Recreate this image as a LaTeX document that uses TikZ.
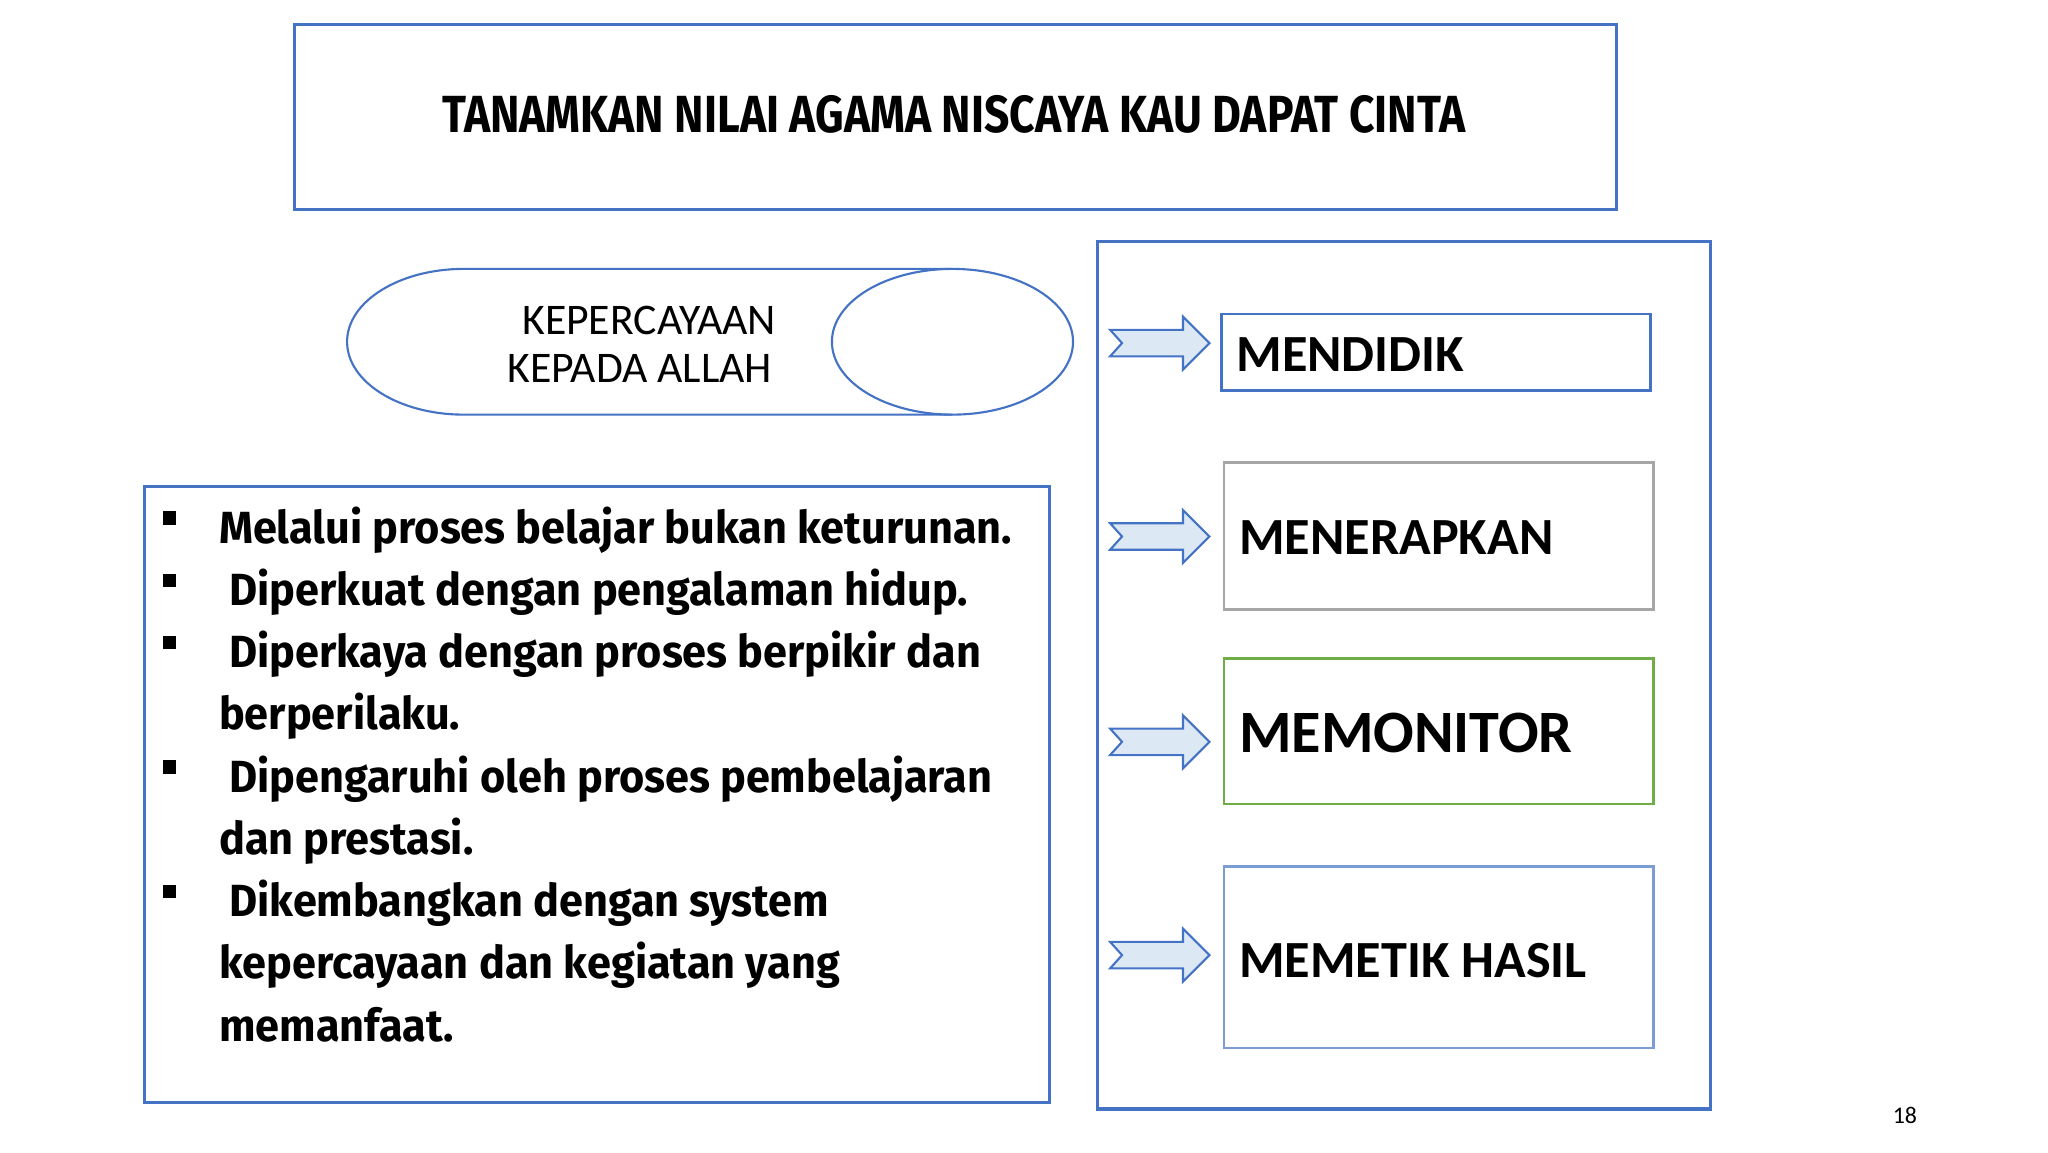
\documentclass[tikz,border=0pt]{standalone}
\usepackage{fontspec}
\setmainfont{Carlito}
\newfontfamily\fira{Fira Sans}
\usepackage{graphicx}
\definecolor{bl}{HTML}{4472C4}
\definecolor{gr}{HTML}{A6A6A6}
\definecolor{gn}{HTML}{70AD47}
\definecolor{lb}{HTML}{DDE8F5}
\tikzset{
 frame/.style={draw=bl,line width=1.2pt},
 arr/.style={draw=bl,fill=lb,line width=0.8pt},
 lbl/.style={anchor=west,inner sep=0pt,font=\bfseries\fontsize{19.7}{22}\selectfont},
 bul/.style={anchor=base west,inner sep=0pt,font=\fira\bfseries\fontsize{17}{20}\selectfont},
 kt/.style={inner sep=0pt,font=\fontsize{16.5}{18}\selectfont},
 sq/.style={fill=black,minimum size=5pt,inner sep=0pt}
}
\newcommand{\harrow}[2]{\path[arr] (838,#2-10)--(893,#2-10)--(893,#2-20)--(913,#2)--(893,#2+20)--(893,#2+10)--(838,#2+10)--(847,#2)--cycle;}
\newcommand{\bt}[1]{\scalebox{0.96}[1]{#1}}
\begin{document}
\begin{tikzpicture}[x=0.5pt,y=-0.5pt]
\useasboundingbox (0,0) rectangle (1546,870);
% title
\node[frame,minimum width=499pt,minimum height=70pt,anchor=north west] (title) at (221,17) {};
\node[inner sep=0pt] (tt) at (720,86) {\resizebox{386pt}{14pt}{\fira\bfseries TANAMKAN NILAI AGAMA NISCAYA KAU DAPAT CINTA}};
% oval shape
\draw[bl,line width=0.8pt] (719,203) -- (350,203) arc[start angle=270,end angle=90,x radius=88,y radius=55] -- (719,313);
\draw[bl,line width=0.8pt] (719,258) ellipse [x radius=91,y radius=55];
\node[kt] (kep1) at (490,242) {KEPERCAYAAN};
\node[kt] (kep2) at (483,278) {KEPADA ALLAH};
% left box
\node[frame,minimum width=341.5pt,minimum height=232.5pt,anchor=north west] (lbox) at (108,366) {};
\foreach \y in {391,438,485,579,673} \node[sq] at (128,\y) {};
\node[bul] at (165,410) {\bt{Melalui proses belajar bukan keturunan.}};
\node[bul] at (165,457) {\bt{\ Diperkuat dengan pengalaman hidup.}};
\node[bul] at (165,504) {\bt{\ Diperkaya dengan proses berpikir dan}};
\node[bul] at (165,551) {\bt{berperilaku.}};
\node[bul] at (165,598) {\bt{\ Dipengaruhi oleh proses pembelajaran}};
\node[bul] at (165,645) {\bt{dan prestasi.}};
\node[bul] at (165,692) {\bt{\ Dikembangkan dengan system}};
\node[bul] at (165,739) {\bt{kepercayaan dan kegiatan yang}};
\node[bul] at (165,786) {\bt{memanfaat.}};
% right box
\node[frame,minimum width=231.5pt,minimum height=327.5pt,anchor=north west] (rbox) at (827,181) {};
\node[draw=bl,line width=1pt,minimum width=162pt,minimum height=29pt,anchor=north west] (b1) at (921,236) {};
\node[draw=gr,line width=1pt,minimum width=162pt,minimum height=55.5pt,anchor=north west] (b2) at (923,348) {};
\node[draw=gn,line width=1pt,minimum width=162pt,minimum height=55pt,anchor=north west] (b3) at (923,496) {};
\node[draw=bl!70,line width=1pt,minimum width=162pt,minimum height=68.5pt,anchor=north west] (b4) at (923,653) {};
\node[lbl] at (933,268) {MENDIDIK};
\node[lbl] at (935,406) {MENERAPKAN};
\node[lbl,font=\bfseries\fontsize{22.7}{26}\selectfont] at (935,553) {MEMONITOR};
\node[lbl] at (935,725) {MEMETIK HASIL};
\harrow{0}{259}
\harrow{0}{405}
\harrow{0}{560}
\harrow{0}{721}
\node[font=\fontsize{9}{11}\selectfont] (pg) at (1438,842) {18};
\end{tikzpicture}
\end{document}
